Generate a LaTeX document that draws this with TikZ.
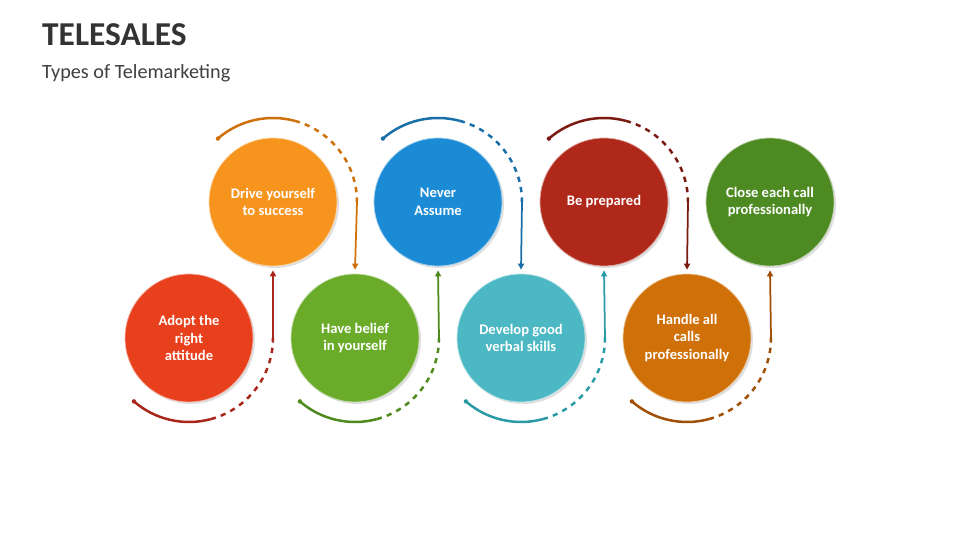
\documentclass[tikz,border=0pt]{standalone}
\usepackage{fontspec}
\setmainfont{Carlito}
\usetikzlibrary{arrows.meta,shadows,calc}
\definecolor{cRed}{HTML}{E8401C}   \definecolor{aRed}{HTML}{A8261A}
\definecolor{cOrange}{HTML}{F7941D}\definecolor{aOrange}{HTML}{D0700A}
\definecolor{cGreen}{HTML}{6AAB2A} \definecolor{aGreen}{HTML}{4E8A1E}
\definecolor{cBlue}{HTML}{1B8BD6}  \definecolor{aBlue}{HTML}{1A6FA8}
\definecolor{cTeal}{HTML}{4BB8C4}  \definecolor{aTeal}{HTML}{2A9AA6}
\definecolor{cBrick}{HTML}{B0281A} \definecolor{aBrick}{HTML}{7A1A10}
\definecolor{cAmber}{HTML}{D07008} \definecolor{aAmber}{HTML}{A05006}
\definecolor{cLeaf}{HTML}{4E8A22}
\tikzset{
  bubble/.style={circle, minimum size=2.56cm, inner sep=0pt, draw=white!60!#1,
    fill=#1, text=white, align=center, font=\bfseries\fontsize{8.3}{10}\selectfont,
    drop shadow={opacity=0.25, shadow xshift=0.04cm, shadow yshift=-0.04cm}},
  track/.style={line width=0.5mm, #1},
  tip/.style={-{Triangle[length=1.2mm,width=1.2mm]}}
}
\begin{document}
\begin{tikzpicture}[x=0.02cm, y=0.02cm]
  \useasboundingbox (0,0) rectangle (960,540);

  % Title and subtitle.
  \node[anchor=west, font=\bfseries\fontsize{19}{22}\selectfont, text=black!80] (title) at (36,505) {TELESALES};
  \node[anchor=west, font=\fontsize{11.5}{14}\selectfont, text=black!75] (subtitle) at (36,467) {Types of Telemarketing};

  % The eight steps, alternating low and high.
  \node[bubble=cRed]    (s1) at (189,202) {Adopt the\\right\\attitude};
  \node[bubble=cOrange] (s2) at (273,338) {Drive yourself\\to success};
  \node[bubble=cGreen]  (s3) at (355,202) {Have belief\\in yourself};
  \node[bubble=cBlue]   (s4) at (438,338) {Never\\Assume};
  \node[bubble=cTeal]   (s5) at (521,202) {Develop good\\verbal skills};
  \node[bubble=cBrick]  (s6) at (604,338) {Be prepared};
  \node[bubble=cAmber]  (s7) at (687,202) {Handle all\\calls\\professionally};
  \node[bubble=cLeaf]   (s8) at (770,338) {Close each call\\professionally};

  % Arcs under the low steps, leading up to the next one.
  \foreach \a/\b/\col in {s1/s2/aRed, s3/s4/aGreen, s5/s6/aTeal, s7/s8/aAmber} {
    \fill[\col] (\a) ++(229:84) circle (2.2);
    \draw[track=\col] (\a) ++(229:84) arc[start angle=229, end angle=285, radius=84];
    \draw[track=\col, dashed] (\a) ++(285:84) arc[start angle=285, end angle=360, radius=84];
    \draw[track=\col, line width=0.35mm, tip] (\a) ++(84,0) -- ($(\b.south)+(0,-4)$);
  }

  % Arcs over the high steps, leading down to the next one.
  \foreach \a/\b/\col in {s2/s3/aOrange, s4/s5/aBlue, s6/s7/aBrick} {
    \fill[\col] (\a) ++(131:84) circle (2.2);
    \draw[track=\col] (\a) ++(131:84) arc[start angle=131, end angle=75, radius=84];
    \draw[track=\col, dashed] (\a) ++(75:84) arc[start angle=75, end angle=0, radius=84];
    \draw[track=\col, line width=0.35mm, tip] (\a) ++(84,0) -- ($(\b.north)+(0,4)$);
  }
\end{tikzpicture}
\end{document}
